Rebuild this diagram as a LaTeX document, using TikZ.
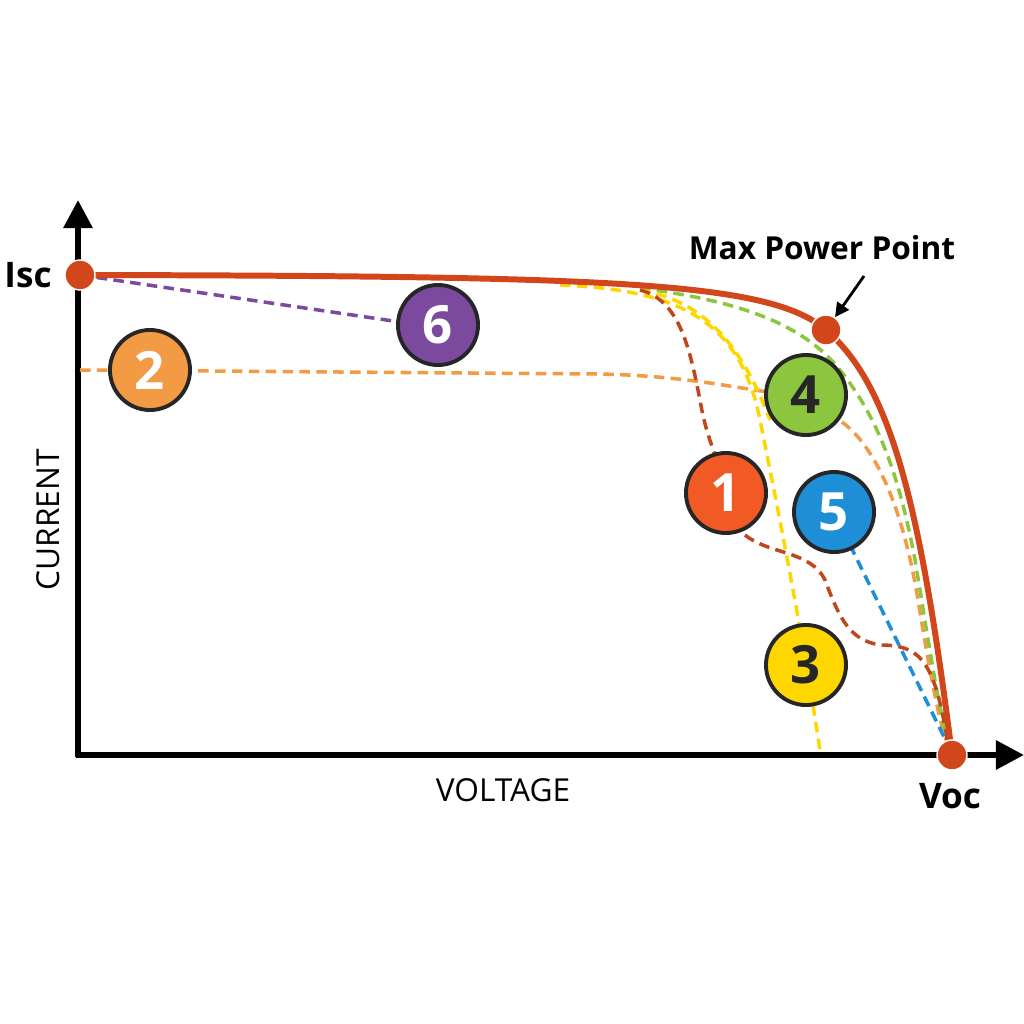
\documentclass[tikz,border=0pt]{standalone}
\usepackage{fontspec}
\setmainfont{Open Sans}
\usetikzlibrary{arrows.meta}
\definecolor{mred}{HTML}{D2461C}
\definecolor{cpur}{HTML}{7B4A9E}
\definecolor{corg}{HTML}{F39A45}
\definecolor{cgrn}{HTML}{8CC63F}
\definecolor{cone}{HTML}{F15A24}
\definecolor{cblu}{HTML}{1E8FD6}
\definecolor{cyel}{HTML}{FFD700}
\definecolor{cbrn}{HTML}{C0461E}
\begin{document}
\begin{tikzpicture}[x=0.01cm,y=-0.01cm,
  num/.style={circle,draw=black!85,line width=1.1pt,minimum size=0.8cm,inner sep=0pt,font=\fontsize{15}{15}\selectfont\bfseries},
  dot/.style={circle,fill=mred,draw=white,line width=0.4pt,minimum size=0.3cm,inner sep=0pt},
  dsh/.style={line width=1pt,dash pattern=on 3pt off 1.8pt},
  lbl/.style={font=\fontsize{9}{9}\selectfont\bfseries}]
\useasboundingbox (0,0) rectangle (1024,1024);
% axes
\draw[line width=1.7pt,-{Triangle[length=8pt,width=8pt]}] (78,757) -- (78,200);
\draw[line width=1.7pt,-{Triangle[length=8pt,width=8pt]}] (76,755) -- (1024,755);
% dashed curves
\draw[dsh,cpur] (80,275) -- (400,322);
\draw[dsh,corg] (80,370) -- (600,374) .. controls (680,376) and (720,385) .. (768,392);
\draw[dsh,corg] (842,422) .. controls (880,450) and (905,520) .. (918,600) .. controls (928,660) and (938,720) .. (948,745);
\draw[dsh,cgrn] (640,288) .. controls (730,300) and (800,320) .. (840,370) .. controls (880,420) and (900,480) .. (915,560) .. controls (930,650) and (940,720) .. (950,745);
\draw[dsh,cyel] (560,285) .. controls (680,290) and (740,320) .. (760,420) .. controls (780,520) and (800,620) .. (820,750);
\draw[dsh,cyel] (640,290) .. controls (700,300) and (740,340) .. (770,420);
\draw[dsh,cbrn] (640,290) .. controls (680,300) and (690,350) .. (700,400) .. controls (705,430) and (712,445) .. (715,455);
\draw[dsh,cbrn] (745,535) .. controls (770,555) and (810,550) .. (825,580) .. controls (840,620) and (850,640) .. (880,645) .. controls (920,645) and (935,660) .. (948,745);
\draw[dsh,cblu] (850,545) -- (948,745);
% main curve
\draw[mred,line width=1.7pt,line cap=round] (80,275) .. controls (620,276) and (770,282) .. (826,330) .. controls (890,385) and (920,500) .. (952,755);
% dots
\node[dot] (isc) at (80,275) {};
\node[dot] (voc) at (952,755) {};
\node[dot] (mpp) at (826,330) {};
\node[font=\fontsize{10}{10}\selectfont\bfseries] (tisc) at (28,275) {Isc};
\node[font=\fontsize{10}{10}\selectfont\bfseries] (tvoc) at (950,796) {Voc};
\node[lbl] (tmpp) at (822,248) {Max Power Point};
\draw[line width=0.8pt,-{Triangle[length=4pt,width=4pt]}] (864,276) -- (mpp);
\node[font=\fontsize{9}{9}\selectfont,rotate=90] (cur) at (48,520) {CURRENT};
\node[font=\fontsize{9}{9}\selectfont] (vol) at (503,790) {VOLTAGE};
% numbered circles
\node[num,fill=cpur,text=white] (n6) at (438,325) {6};
\node[num,fill=corg,text=white] (n2) at (150,370) {2};
\node[num,fill=cgrn,text=black!85] (n4) at (806,395) {4};
\node[num,fill=cone,text=white] (n1) at (726,493) {1};
\node[num,fill=cblu,text=white] (n5) at (834,512) {5};
\node[num,fill=cyel,text=black!85] (n3) at (806,665) {3};
\end{tikzpicture}
\end{document}
